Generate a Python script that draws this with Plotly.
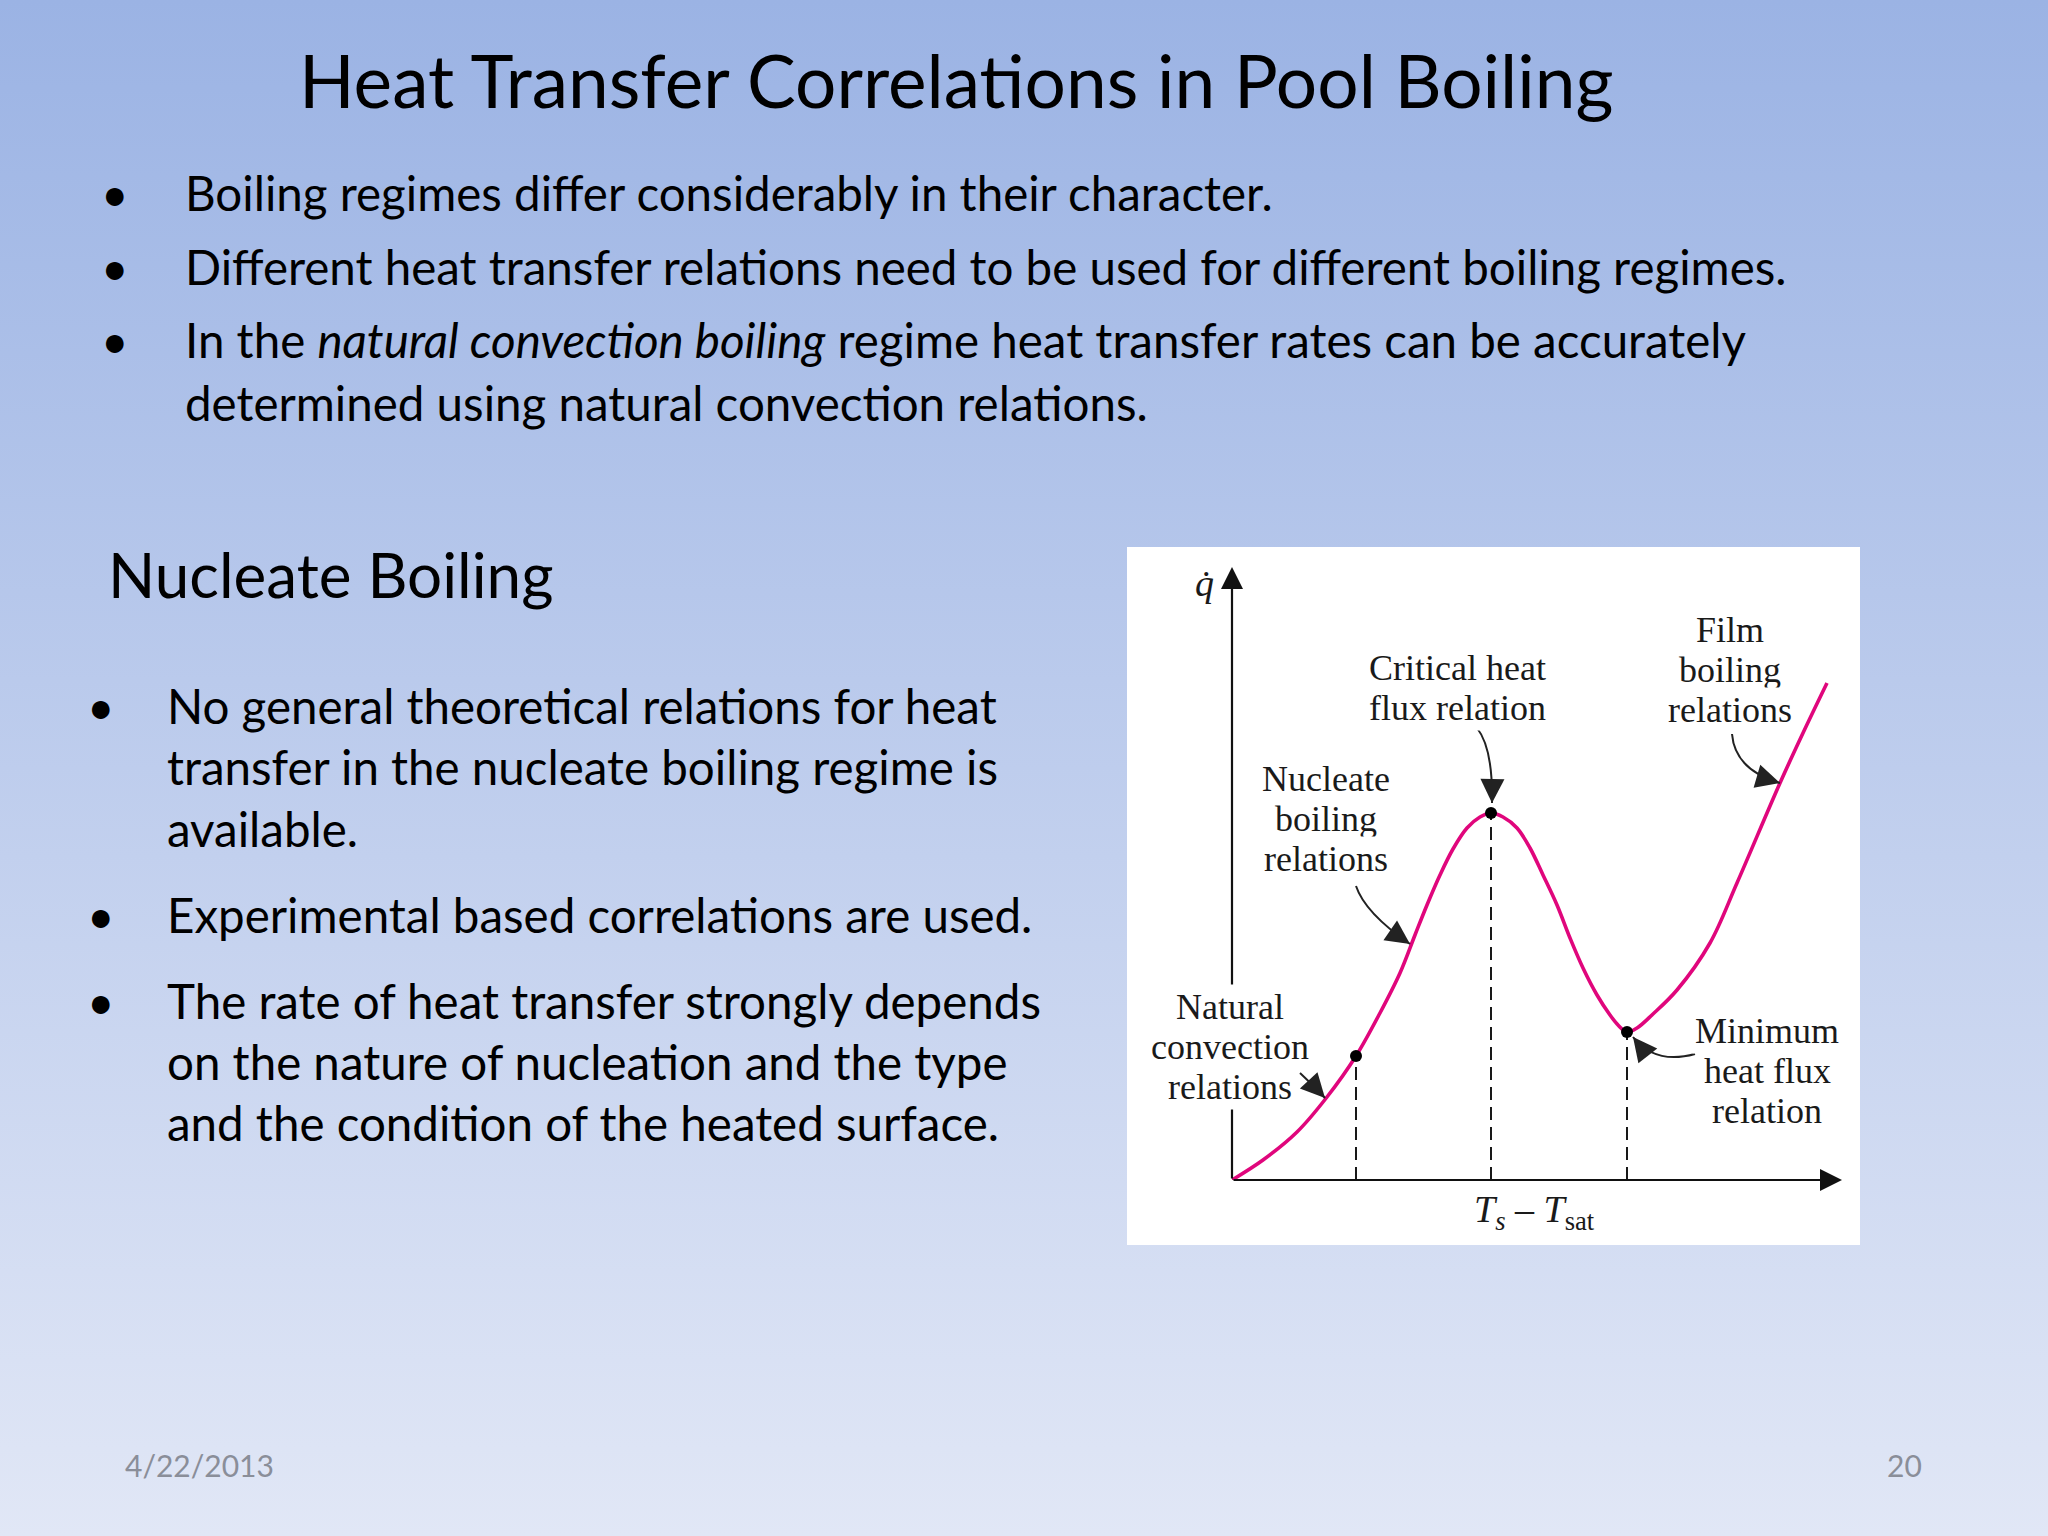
import base64
import plotly.graph_objects as go

# boiling curve (arbitrary units, origin at axis corner)
dT = [0, 31, 65, 95, 124, 148, 168, 183, 195, 208, 221, 235, 248, 259, 271, 285, 298,
      311, 325, 338, 351, 365, 378, 386, 395, 405, 421, 445, 478, 505, 548, 571, 595]
q = [0, 20, 48, 83, 124, 167, 207, 245, 275, 305, 331, 352, 363, 367, 363, 352, 332,
     305, 275, 242, 212, 185, 165, 155, 148, 152, 166, 190, 237, 297, 397, 447, 497]

# marked points: onset of nucleate boiling, critical heat flux, minimum heat flux
mark_dT = [124, 259, 395]
mark_q = [124, 367, 148]

x_max = 610
y_max = 613

title = "Heat Transfer Correlations in Pool Boiling"
top_lines = [
    ("•", "Boiling regimes differ considerably in their character."),
    ("•", "Different heat transfer relations need to be used for different boiling regimes."),
    ("•", "In the <i>natural convection boiling</i> regime heat transfer rates can be accurately"),
    ("", "determined using natural convection relations."),
]
heading = "Nucleate Boiling"
low_lines = [
    ("•", "No general theoretical relations for heat"),
    ("", "transfer in the nucleate boiling regime is"),
    ("", "available."),
    ("•", "Experimental based correlations are used."),
    ("•", "The rate of heat transfer strongly depends"),
    ("", "on the nature of nucleation and the type"),
    ("", "and the condition of the heated surface."),
]
footer_date = "4/22/2013"
footer_page = "20"

# chart callouts: text lines, centre, arrow start / control / tip (data units),
# and how far back along the tangent the arrow head is drawn from
callouts = [
    (["Critical heat", "flux relation"], (225, 492), (245, 452), (261, 432), (260, 377), 0.3),
    (["Film", "boiling", "relations"], (498, 510), (500, 446), (503, 410), (548, 397), 0.3),
    (["Nucleate", "boiling", "relations"], (94, 361), (124, 294), (133, 267), (178, 236), 0.3),
    (["Natural", "convection", "relations"], (-2, 133), (68, 107), (80, 96), (93, 82), 1.0),
    (["Minimum", "heat flux", "relation"], (535, 109), (463, 126), (423, 115), (401, 143), 0.3),
]

W, H = 2048, 1536
X0, X1 = 1232, 1842   # pixel span of the horizontal axis
Y0, Y1 = 1180, 567    # pixel span of the vertical axis


def px(x):
    return x / W


def py(y):
    return 1 - y / H


def d2p(x, y):
    return (px(X0 + x * (X1 - X0) / x_max), py(Y0 - y * (Y0 - Y1) / y_max))


SANS = "Lato"
SERIF = "Liberation Serif"
BODY = 47.5
INK = "#1a1a1a"

fig = go.Figure()

fig.add_trace(go.Scatter(
    x=dT, y=q, mode="lines", line=dict(color="#E0067C", width=3.6, shape="spline", smoothing=1.0),
    hoverinfo="skip", showlegend=False))
fig.add_trace(go.Scatter(
    x=mark_dT, y=mark_q, mode="markers", marker=dict(color="black", size=12),
    hoverinfo="skip", showlegend=False))

shapes = []
# white panel behind the diagram
shapes.append(dict(type="rect", xref="paper", yref="paper", x0=px(1127), x1=px(1860),
                   y0=py(1245), y1=py(547), fillcolor="white", line_width=0, layer="below"))
for xm, ym in zip(mark_dT, mark_q):
    shapes.append(dict(type="line", xref="x", yref="y", x0=xm, x1=xm, y0=0, y1=ym,
                       line=dict(color="black", width=1.8, dash="13px,7px"), layer="below"))
for lines, c, s, k, t, f in callouts:
    shapes.append(dict(type="path", xref="x", yref="y",
                       path=f"M {s[0]},{s[1]} Q {k[0]},{k[1]} {t[0]},{t[1]}",
                       line=dict(color="#222222", width=2)))

ann = []
# axes with arrow heads
ann.append(dict(x=x_max, y=0, ax=0, ay=0, xref="x", yref="y", axref="x", ayref="y",
                text="", showarrow=True, arrowhead=2, arrowsize=2.0, arrowwidth=2.2,
                arrowcolor="#111111"))
ann.append(dict(x=0, y=y_max, ax=0, ay=0, xref="x", yref="y", axref="x", ayref="y",
                text="", showarrow=True, arrowhead=2, arrowsize=2.0, arrowwidth=2.2,
                arrowcolor="#111111"))

# callout labels and arrow heads along the end tangent
line_gap = 40 * y_max / (Y0 - Y1)
for lines, c, s, k, t, f in callouts:
    n = len(lines)
    for i, txt in enumerate(lines):
        lx, ly = d2p(c[0], c[1] - (i - (n - 1) / 2) * line_gap)
        ann.append(dict(x=lx, y=ly, xref="paper", yref="paper", text=txt, showarrow=False,
                        xanchor="center", yanchor="middle", bgcolor="white", borderpad=2,
                        font=dict(family=SERIF, size=36, color=INK)))
    ann.append(dict(x=t[0], y=t[1], ax=t[0] + f * (k[0] - t[0]), ay=t[1] + f * (k[1] - t[1]),
                    xref="x", yref="y", axref="x", ayref="y", text="", showarrow=True,
                    arrowhead=2, arrowsize=2.4, arrowwidth=2, arrowcolor="#222222"))

qx, qy = d2p(-28, 597)
ann.append(dict(x=qx, y=qy, xref="paper", yref="paper", text="<i>q̇</i>", showarrow=False,
                xanchor="center", yanchor="middle", font=dict(family=SERIF, size=38, color=INK)))
tx, ty = d2p(302, -32)
ann.append(dict(x=tx, y=ty, xref="paper", yref="paper",
                text="<i>T<sub>s</sub></i> – <i>T</i><sub>sat</sub>", showarrow=False,
                xanchor="center", yanchor="middle", font=dict(family=SERIF, size=38, color=INK)))

# slide text
ann.append(dict(x=px(956), y=py(80), xref="paper", yref="paper", text=title, showarrow=False,
                xanchor="center", yanchor="middle", font=dict(family=SANS, size=73, color="black")))

top_base = [211, 284, 358, 420]
for (b, txt), yb in zip(top_lines, top_base):
    if b:
        ann.append(dict(x=px(115), y=py(yb - 18), xref="paper", yref="paper", text=b,
                        showarrow=False, xanchor="center", yanchor="middle",
                        font=dict(family=SANS, size=BODY, color="black")))
    ann.append(dict(x=px(183), y=py(yb - 18), xref="paper", yref="paper", text=txt,
                    showarrow=False, xanchor="left", yanchor="middle",
                    font=dict(family=SANS, size=BODY, color="black")))

ann.append(dict(x=px(106), y=py(574), xref="paper", yref="paper", text=heading, showarrow=False,
                xanchor="left", yanchor="middle", font=dict(family=SANS, size=62, color="black")))

low_base = [723, 785, 846, 932, 1018, 1079, 1140]
for (b, txt), yb in zip(low_lines, low_base):
    if b:
        ann.append(dict(x=px(101), y=py(yb - 18), xref="paper", yref="paper", text=b,
                        showarrow=False, xanchor="center", yanchor="middle",
                        font=dict(family=SANS, size=BODY, color="black")))
    ann.append(dict(x=px(165), y=py(yb - 18), xref="paper", yref="paper", text=txt,
                    showarrow=False, xanchor="left", yanchor="middle",
                    font=dict(family=SANS, size=BODY, color="black")))

ann.append(dict(x=px(123), y=py(1465), xref="paper", yref="paper", text=footer_date,
                showarrow=False, xanchor="left", yanchor="middle",
                font=dict(family=SANS, size=30, color="#8a8e99")))
ann.append(dict(x=px(1924), y=py(1465), xref="paper", yref="paper", text=footer_page,
                showarrow=False, xanchor="right", yanchor="middle",
                font=dict(family=SANS, size=30, color="#8a8e99")))

svg = ('<svg xmlns="http://www.w3.org/2000/svg" width="2048" height="1536">'
       '<defs><linearGradient id="g" x1="0" y1="0" x2="0" y2="1">'
       '<stop offset="0" stop-color="#9BB3E4"/><stop offset="1" stop-color="#E1E7F6"/>'
       '</linearGradient></defs><rect width="2048" height="1536" fill="url(#g)"/></svg>')
bg = "data:image/svg+xml;base64," + base64.b64encode(svg.encode()).decode()

fig.update_layout(
    width=W, height=H, autosize=False,
    margin=dict(l=0, r=0, t=0, b=0),
    paper_bgcolor="#C0CFEE", plot_bgcolor="rgba(0,0,0,0)",
    images=[dict(source=bg, xref="paper", yref="paper", x=0, y=1, sizex=1, sizey=1,
                 sizing="stretch", layer="below", xanchor="left", yanchor="top")],
    shapes=shapes, annotations=ann,
    xaxis=dict(domain=[px(X0), px(X1)], range=[0, x_max], visible=False, fixedrange=True),
    yaxis=dict(domain=[py(Y0), py(Y1)], range=[0, y_max], visible=False, fixedrange=True),
    showlegend=False,
)

fig.write_html("out.html", config={"displayModeBar": False},
               post_script="document.body.style.margin='0';")
